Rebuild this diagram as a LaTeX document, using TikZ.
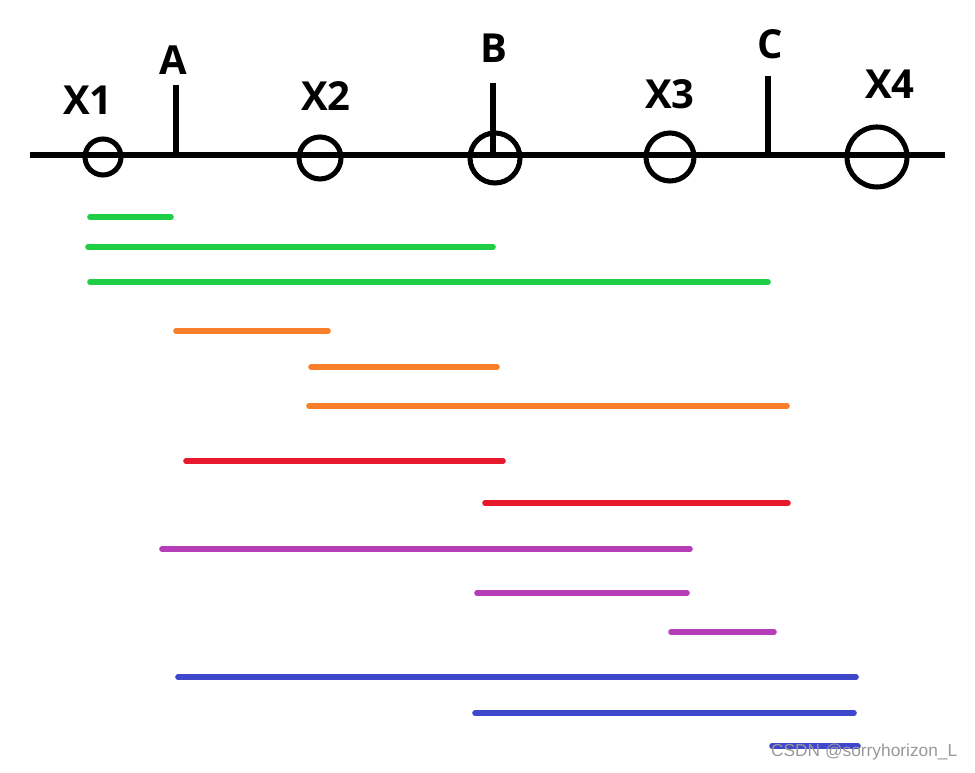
\documentclass[tikz,border=0pt]{standalone}
\usepackage{fontspec}
\setmainfont{Open Sans}
\newfontfamily\wm{Liberation Sans}
\definecolor{cg}{HTML}{1ECF46}
\definecolor{co}{HTML}{F97E2A}
\definecolor{cr}{HTML}{E8192C}
\definecolor{cp}{HTML}{B53DB8}
\definecolor{cb}{HTML}{3F48CC}
\begin{document}
\begin{tikzpicture}[x=0.75pt,y=-0.75pt,
  axis/.style={line width=3.8pt},
  seg/.style={line width=4.2pt,line cap=round},
  lab/.style={font=\bfseries\fontsize{30}{30}\selectfont}]
\useasboundingbox[fill=white] (0,0) rectangle (975,773);
\coordinate (L) at (30,155); \coordinate (R) at (945,155);
\draw[axis] (L) -- (R);
\draw[axis] (103,157) circle[radius=18];
\draw[axis] (320,158) circle[radius=21];
\draw[axis] (495,158) circle[radius=25];
\draw[axis] (670,157) circle[radius=24];
\draw[axis] (877,157) circle[radius=30];
\draw[axis] (176,85) -- (176,158);
\draw[axis] (493,83) -- (493,155);
\draw[axis] (768,76) -- (768,155);
\node[lab] (x1) at (88,100) {X1};
\node[lab] (a) at (173,60) {A};
\node[lab] (x2) at (326,96) {X2};
\node[lab] (b) at (494,48) {B};
\node[lab] (x3) at (670,94) {X3};
\node[lab] (c) at (770,44) {C};
\node[lab] (x4) at (890,84) {X4};
\draw[seg,cg] (90,217) -- (171,217);
\draw[seg,cg] (88,247) -- (493,247);
\draw[seg,cg] (90,282) -- (768,282);
\draw[seg,co] (176,331) -- (328,331);
\draw[seg,co] (311,367) -- (497,367);
\draw[seg,co] (309,406) -- (787,406);
\draw[seg,cr] (186,461) -- (503,461);
\draw[seg,cr] (485,503) -- (788,503);
\draw[seg,cp] (162,549) -- (690,549);
\draw[seg,cp] (477,593) -- (687,593);
\draw[seg,cp] (671,632) -- (774,632);
\draw[seg,cb] (178,677) -- (856,677);
\draw[seg,cb] (475,713) -- (854,713);
\draw[seg,cb] (772,746) -- (858,746);
\node[font=\wm\fontsize{13}{13}\selectfont,text=gray!80,anchor=east] (wm) at (962,752) {CSDN @sorryhorizon\_L};
\end{tikzpicture}
\end{document}
